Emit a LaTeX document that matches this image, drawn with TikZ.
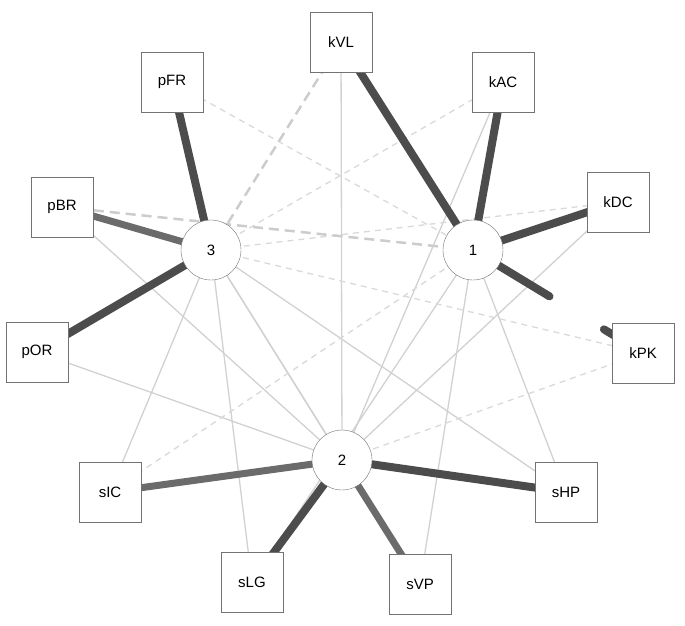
\documentclass[tikz,border=0pt]{standalone}
\usepackage{fontspec}
\setmainfont{Liberation Sans}
\usetikzlibrary{calc}
\begin{document}
\begin{tikzpicture}[x=1pt,y=-1pt,
  man/.style={draw=black!55,fill=white,minimum width=62pt,minimum height=60pt,font=\fontsize{15}{15}\selectfont,inner sep=0pt},
  lat/.style={draw=black!55,fill=white,circle,minimum size=60pt,font=\fontsize{15}{15}\selectfont,inner sep=0pt},
  strong/.style={line width=8pt,draw=black!70},
  mid/.style={line width=7pt,draw=black!58},
  faint/.style={line width=1.3pt,draw=black!18},
  faintd/.style={line width=1.3pt,draw=black!15,dash pattern=on 6pt off 5pt},
  medd/.style={line width=2.5pt,draw=black!20,dash pattern=on 10pt off 6pt}]
\useasboundingbox (0,0) rectangle (685,625);
\coordinate (c3) at (211,250); \coordinate (c1) at (473,250); \coordinate (c2) at (342,460);
\coordinate (xVL) at (341,42); \coordinate (xAC) at (503,82); \coordinate (xDC) at (618,202);
\coordinate (xPK) at (643,353); \coordinate (xHP) at (566,492); \coordinate (xVP) at (420,584);
\coordinate (xLG) at (252,582); \coordinate (xIC) at (110,492); \coordinate (xOR) at (37,352);
\coordinate (xBR) at (62,207); \coordinate (xFR) at (172,82);
% faint cross-loadings
\foreach \a/\b in {c3/xIC,c3/xLG,c3/xVP,c3/xHP,c3/c2,xBR/c2,xOR/c2,xVL/c2,xDC/c2,c1/xHP,c1/xVP,c1/xLG,xAC/c2}
  \draw[faint] (\a) -- (\b);
\foreach \a/\b in {c3/xAC,c3/xDC,c3/xPK,xFR/c1,xIC/c1,c2/xPK}
  \draw[faintd] (\a) -- (\b);
\draw[medd] (c3) -- (xVL);
\draw[medd] (xBR) -- (c1);
% main loadings
\draw[strong] (c1) -- (xVL); \draw[strong] (c1) -- (xAC); \draw[strong] (c1) -- (xDC);
\draw[strong,line cap=round] (c1) -- ($(c1)!0.45!(xPK)$);
\draw[strong,line cap=round] ($(c1)!0.77!(xPK)$) -- (xPK);
\draw[strong] (c3) -- (xFR); \draw[mid] (c3) -- (xBR); \draw[strong] (c3) -- (xOR);
\draw[mid] (c2) -- (xIC); \draw[strong] (c2) -- (xLG); \draw[mid] (c2) -- (xVP); \draw[strong] (c2) -- (xHP);
% nodes
\node[lat] (n3) at (c3) {3}; \node[lat] (n1) at (c1) {1}; \node[lat] (n2) at (c2) {2};
\node[man] (kVL) at (xVL) {kVL}; \node[man] (kAC) at (xAC) {kAC}; \node[man] (kDC) at (xDC) {kDC};
\node[man] (kPK) at (xPK) {kPK}; \node[man] (sHP) at (xHP) {sHP}; \node[man] (sVP) at (xVP) {sVP};
\node[man] (sLG) at (xLG) {sLG}; \node[man] (sIC) at (xIC) {sIC}; \node[man] (pOR) at (xOR) {pOR};
\node[man] (pBR) at (xBR) {pBR}; \node[man] (pFR) at (xFR) {pFR};
\end{tikzpicture}
\end{document}
